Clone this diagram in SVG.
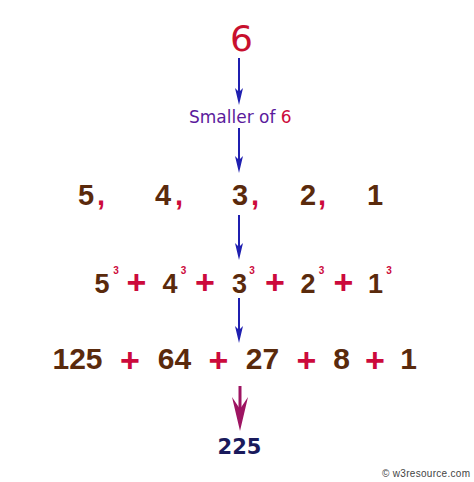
<svg xmlns="http://www.w3.org/2000/svg" width="474" height="482" viewBox="0 0 474 482">
<style>
.num{font-family:"Liberation Sans",Arial,sans-serif;font-weight:bold;fill:#5a2a0c;text-anchor:middle}
.r1{font-size:29px}
.r2{font-size:27px}
.r3{font-size:30px}
.plus{font-family:"Liberation Sans",Arial,sans-serif;font-weight:bold;fill:#cc0a3c;text-anchor:middle;font-size:34px}
.sup{font-family:"Liberation Sans",Arial,sans-serif;font-weight:bold;fill:#cc0a3c;text-anchor:middle;font-size:10px}
.comma{font-family:"Liberation Sans",Arial,sans-serif;font-weight:bold;fill:#cc0a3c;text-anchor:middle;font-size:29px}
.blue{stroke:#1f1fb0;stroke-width:2;fill:none}
</style>
<defs>
<marker id="ah" viewBox="0 -4.5 17 9" markerWidth="17" markerHeight="9" refX="4" refY="0" orient="auto" markerUnits="userSpaceOnUse">
<path d="M0,-4 L17,0 L0,4 L4,0 Z" fill="#1f1fb0"/>
</marker>
<marker id="ahm" viewBox="0 -8 34 16" markerWidth="34" markerHeight="16" refX="12" refY="0" orient="auto" markerUnits="userSpaceOnUse">
<path d="M0,-8 L34,0 L0,8 L12,0 Z" fill="#9e1462"/>
</marker>
</defs>
<g id="connectors">
<path class="blue" d="M239,58 V92" marker-end="url(#ah)"/>
<path class="blue" d="M239,128 V160" marker-end="url(#ah)"/>
<path class="blue" d="M239,215 V247" marker-end="url(#ah)"/>
<path class="blue" d="M239,298 V330" marker-end="url(#ah)"/>
<path d="M240,386 V409" stroke="#9e1462" stroke-width="3" fill="none" marker-end="url(#ahm)"/>
</g>
<g id="start">
<text x="241.5" y="51" font-family="DejaVu Sans,sans-serif" font-size="36" fill="#c8102e" text-anchor="middle">6</text>
</g>
<g id="smaller">
<text x="189" y="123" font-family="DejaVu Sans,sans-serif" font-size="17" fill="#5b1a9c">Smaller of <tspan fill="#cc0a3c">6</tspan></text>
</g>
<g id="row-numbers">
<text class="num r1" x="86" y="205">5</text><text class="comma" x="101" y="205">,</text>
<text class="num r1" x="163" y="205">4</text><text class="comma" x="179" y="205">,</text>
<text class="num r1" x="240" y="205">3</text><text class="comma" x="255" y="205">,</text>
<text class="num r1" x="308" y="205">2</text><text class="comma" x="322" y="205">,</text>
<text class="num r1" x="375" y="205">1</text>
</g>
<g id="row-cubes">
<text class="num r2" x="102" y="293">5</text><text class="sup" x="116" y="274">3</text>
<text class="plus" x="136.5" y="294">+</text>
<text class="num r2" x="170" y="293">4</text><text class="sup" x="183.5" y="274">3</text>
<text class="plus" x="205" y="294">+</text>
<text class="num r2" x="239.5" y="293">3</text><text class="sup" x="252" y="274">3</text>
<text class="plus" x="275" y="294">+</text>
<text class="num r2" x="308" y="293">2</text><text class="sup" x="321.5" y="274">3</text>
<text class="plus" x="343.5" y="294">+</text>
<text class="num r2" x="375.5" y="293">1</text><text class="sup" x="389" y="274">3</text>
</g>
<g id="row-values">
<text class="num r3" x="77.5" y="369">125</text>
<text class="plus" x="130" y="372">+</text>
<text class="num r3" x="174.5" y="369">64</text>
<text class="plus" x="218.5" y="372">+</text>
<text class="num r3" x="262.5" y="369">27</text>
<text class="plus" x="306.5" y="372">+</text>
<text class="num r3" x="341.5" y="369">8</text>
<text class="plus" x="375" y="372">+</text>
<text class="num r3" x="408.5" y="369">1</text>
</g>
<g id="result">
<text x="239.5" y="454" font-family="DejaVu Sans,sans-serif" font-weight="bold" font-size="21" fill="#1a1a5c" text-anchor="middle">225</text>
</g>
<text x="382" y="477" font-family="Liberation Sans,Arial,sans-serif" font-size="10" fill="#444" textLength="88">© w3resource.com</text>
</svg>
